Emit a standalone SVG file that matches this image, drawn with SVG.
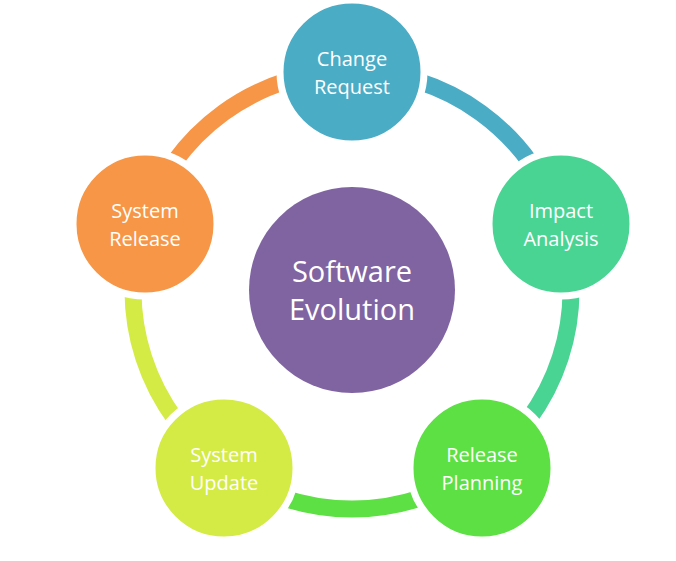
<svg xmlns="http://www.w3.org/2000/svg" width="676" height="561" viewBox="0 0 676 561">
<style>
.arc{fill:none;stroke-width:17}
.n{stroke:#fff;stroke-width:7}
text{font-family:"Open Sans","Liberation Sans",sans-serif;fill:#fff;text-anchor:middle;font-size:20px}
.big{font-size:29px}
</style>
<rect width="676" height="561" fill="#fff"/>
<g id="connectors">
<path class="arc" stroke="#4BACC6" d="M352,71 A219,219 0 0 1 560.3,222.3"/>
<path class="arc" stroke="#4AD494" d="M560.3,222.3 A219,219 0 0 1 480.7,467.2"/>
<path class="arc" stroke="#5CE044" d="M480.7,467.2 A219,219 0 0 1 223.3,467.2"/>
<path class="arc" stroke="#D4EB45" d="M223.3,467.2 A219,219 0 0 1 143.7,222.3"/>
<path class="arc" stroke="#F79646" d="M143.7,222.3 A219,219 0 0 1 352,71"/>
</g>
<g id="center"><circle cx="352" cy="290" r="103" fill="#8064A2"/><text class="big" x="352" y="282">Software</text><text class="big" x="352" y="320">Evolution</text></g>
<g id="change-request"><circle class="n" cx="352" cy="72" r="72" fill="#4BACC6"/><text x="352" y="66">Change</text><text x="352" y="94">Request</text></g>
<g id="impact-analysis"><circle class="n" cx="561" cy="224" r="72" fill="#4AD494"/><text x="561" y="218">Impact</text><text x="561" y="246">Analysis</text></g>
<g id="release-planning"><circle class="n" cx="482" cy="468" r="72" fill="#5CE044"/><text x="482" y="462">Release</text><text x="482" y="490">Planning</text></g>
<g id="system-update"><circle class="n" cx="224" cy="468" r="72" fill="#D4EB45"/><text x="224" y="462">System</text><text x="224" y="490">Update</text></g>
<g id="system-release"><circle class="n" cx="145" cy="224" r="72" fill="#F79646"/><text x="145" y="218">System</text><text x="145" y="246">Release</text></g>
</svg>
